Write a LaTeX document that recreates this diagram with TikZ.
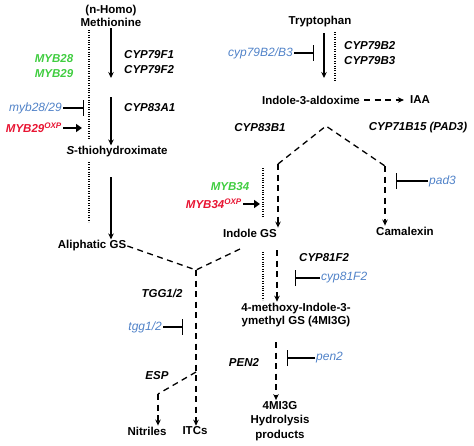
\documentclass[tikz,border=0pt]{standalone}
\usepackage{fontspec}
\setmainfont{Liberation Sans}
\usetikzlibrary{positioning,arrows.meta,calc}
\definecolor{tfgreen}{RGB}{64,205,64}
\definecolor{oxred}{RGB}{232,20,50}
\definecolor{mutblue}{RGB}{80,130,200}
\tikzset{
  met/.style ={font=\fontsize{11.5}{13.5}\selectfont\bfseries, align=center, inner sep=1pt},
  enz/.style ={font=\fontsize{11.5}{15}\selectfont\bfseries\itshape, align=left, inner sep=1pt},
  tf/.style  ={enz, text=tfgreen, align=center},
  oxp/.style ={enz, text=oxred},
  mut/.style ={font=\fontsize{12}{14}\selectfont\itshape, text=mutblue, inner sep=1pt},
  ar/.style  ={-{Stealth[length=6pt,width=5.5pt]}, line width=1.3pt},
  dar/.style ={ar, dash pattern=on 6pt off 4.5pt},
  dln/.style ={line width=1.3pt, dash pattern=on 6pt off 4.5pt},
  dotl/.style={line width=1.1pt, dash pattern=on 1pt off 1.4pt},
  inh/.style ={-{Bar[width=16pt]}, line width=1.3pt},
  oar/.style ={-{Triangle[length=6pt,width=8pt]}, line width=2.2pt},
}
\begin{document}
\begin{tikzpicture}[x=1pt,y=-1pt]
\useasboundingbox (0,0) rectangle (474,445);

% aliphatic branch
\node[met] (meth) at (111,16) {(n-Homo)\\Methionine};
\node[met] (sthio) at (117,152) {\textit{S}-thiohydroximate};
\node[met] (aliph) at (92,246) {Aliphatic GS};
\node[enz,anchor=west] (cyp79f) at (123,62) {CYP79F1\\CYP79F2};
\node[enz,anchor=west] (cyp83a) at (123,108) {CYP83A1};
\node[tf] (myb2829) at (54,66) {MYB28\\MYB29};
\node[mut,anchor=east] (mmyb) at (63,108) {myb28/29};
\node[oxp,anchor=east] (oxp29) at (63,128) {MYB29\textsuperscript{OXP}};

\coordinate (aldA) at (111,78);
\coordinate (aldB) at (111,97);
\coordinate (dotA1) at (89,30);  \coordinate (dotA2) at (89,140);
\coordinate (dotB1) at (89,162); \coordinate (dotB2) at (89,222);
\coordinate (barA) at (84,108);
\coordinate (oxA) at (82,128);

\draw[ar] (meth) -- (aldA);
\draw[ar] (aldB) -- (sthio.north-|aldB);
\draw[ar] (111,177) -- (aliph.north-|111,0);
\draw[dotl] (dotA1) -- (dotA2);
\draw[dotl] (dotB1) -- (dotB2);
\draw[inh] (mmyb) -- (barA);
\draw[oar] (oxp29) -- (oxA);

% indole branch
\node[met] (trp) at (320,22) {Tryptophan};
\node[met] (iaox) at (311,100) {Indole-3-aldoxime};
\node[met] (iaa) at (420,100) {IAA};
\node[enz,anchor=west] (cyp79b) at (343,53) {CYP79B2\\CYP79B3};
\node[mut,anchor=east] (mcyp79b) at (294,53) {cyp79B2/B3};
\node[enz] (cyp83b) at (260,128) {CYP83B1};
\node[enz] (cyp71b) at (418,128) {CYP71B15 (PAD3)};
\node[met] (igs) at (250,233) {Indole GS};
\node[met] (cama) at (405,231) {Camalexin};
\node[tf] (myb34) at (230,187) {MYB34};
\node[oxp,anchor=east] (oxp34) at (243,204) {MYB34\textsuperscript{OXP}};
\node[mut,anchor=west] (mpad3) at (428,181) {pad3};
\node[enz,anchor=west] (cyp81f) at (298,258) {CYP81F2};
\node[mut,anchor=west] (mcyp81f) at (320,278) {cyp81F2};
\node[met] (mig) at (296,315) {4-methoxy-Indole-3-\\ymethyl GS (4MI3G)};
\node[enz] (pen) at (244,362) {PEN2};
\node[mut,anchor=west] (mpen) at (315,358) {pen2};
\node[met,font=\fontsize{11.5}{14.5}\selectfont\bfseries] (hydr) at (280,421) {4MI3G\\Hydrolysis\\products};

\coordinate (trpA) at (324,33);   \coordinate (trpB) at (324,78);
\coordinate (dotC1) at (335,32);  \coordinate (dotC2) at (335,82);
\coordinate (barB) at (314,53);
\coordinate (apex) at (326,126);
\coordinate (lleg) at (278,164);  \coordinate (rleg) at (385,166);
\coordinate (dotD1) at (263,168); \coordinate (dotD2) at (263,218);
\coordinate (dotE1) at (263,252); \coordinate (dotE2) at (263,300);
\coordinate (oxB) at (260,204);
\coordinate (barC) at (396,181);
\coordinate (barD) at (295,278);
\coordinate (barE) at (287,358);

\draw[ar] (trpA) -- (trpB);
\draw[dotl] (dotC1) -- (dotC2);
\draw[inh] (mcyp79b) -- (barB);
\draw[dar, shorten <=3pt, shorten >=5pt] (iaox) -- (iaa);
\draw[dln] (lleg) -- (apex) -- (rleg);
\draw[dar] (lleg) -- (lleg|-igs.north);
\draw[dar] (rleg) -- (rleg|-cama.north);
\draw[dotl] (dotD1) -- (dotD2);
\draw[oar] (oxp34) -- (oxB);
\draw[inh] (mpad3) -- (barC);
\draw[dar] (277,250) -- (mig.north-|277,0);
\draw[dotl] (dotE1) -- (dotE2);
\draw[inh] (mcyp81f) -- (barD);
\draw[dar] (276,342) -- (hydr.north-|276,0);
\draw[inh] (mpen) -- (barE);

% breakdown products
\node[met] (nitr) at (147,431) {Nitriles};
\node[met] (itcs) at (195,431) {ITCs};
\node[enz] (tgg) at (162,293) {TGG1/2};
\node[mut,anchor=east] (mtgg) at (163,327) {tgg1/2};
\node[enz] (esp) at (157,376) {ESP};

\coordinate (jn) at (196,270);
\coordinate (igsL) at (240,249);
\coordinate (espA) at (196,372);
\coordinate (espB) at (158,394);
\coordinate (barF) at (183,327);

\draw[dln] (aliph.east) -- (jn) -- (igsL);
\draw[dar] (jn) -- (itcs.north-|jn);
\draw[dln] (espA) -- (espB);
\draw[dar] (espB) -- (nitr.north-|espB);
\draw[inh] (mtgg) -- (barF);
\end{tikzpicture}
\end{document}
